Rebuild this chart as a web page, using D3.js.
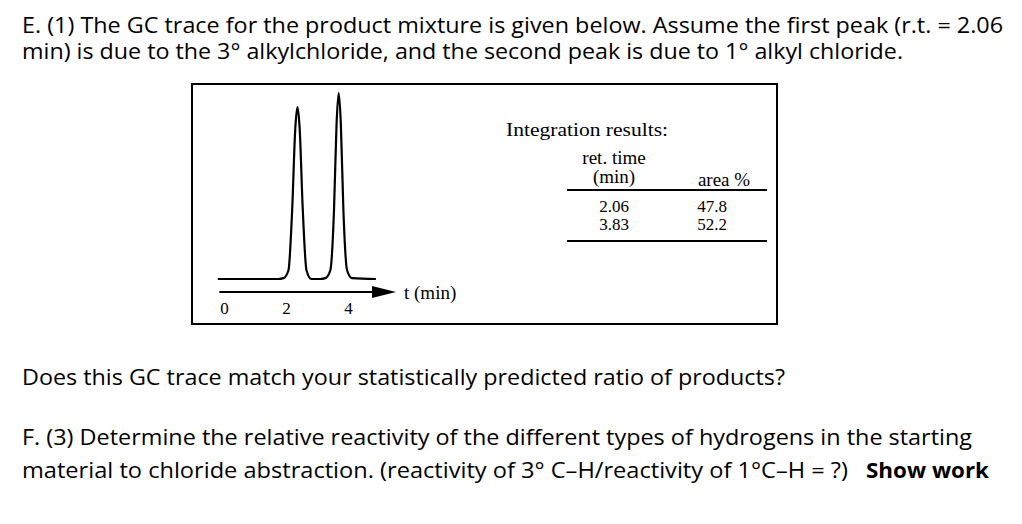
<!DOCTYPE html>
<html><head><meta charset="utf-8">
<script src="https://cdn.jsdelivr.net/npm/d3@7"></script>
<style>body{margin:0;background:#fff}</style></head>
<body><div id="chart"></div>
<script>
var traceTime = [-0.2, 1.75, 1.92, 2.08, 2.2, 2.3, 2.37, 2.44, 2.54, 2.66, 2.82, 3.1, 3.27, 3.43, 3.55, 3.63, 3.7, 3.77, 3.85, 3.97, 4.13, 4.9];
var traceSignal = [0, 0, 0.5, 5, 40, 86, 98, 86, 40, 5, 0, 0, 0.5, 5, 40, 88, 106, 88, 40, 5, 0.5, 0];
var tickValues = [0, 2, 4];
var retTimes = ["2.06", "3.83"];
var areaPct = ["47.8", "52.2"];

var svg = d3.select("#chart").append("svg").attr("width", 1022).attr("height", 524);
var sans = "'Open Sans', sans-serif", serif = "'Liberation Serif', serif";

function txt(x, y, s, opt) {
  opt = opt || {};
  var t = svg.append("text").attr("x", x).attr("y", y).text(s)
    .attr("font-family", opt.f || sans).attr("font-size", opt.size || 21)
    .attr("font-weight", opt.w || "normal").attr("text-anchor", opt.a || "start").attr("fill", "#000");
  if (opt.len) t.attr("textLength", opt.len).attr("lengthAdjust", "spacingAndGlyphs");
  return t;
}
txt(22, 33, "E. (1) The GC trace for the product mixture is given below. Assume the first peak (r.t. = 2.06", {len: 981});
txt(22, 59, "min) is due to the 3° alkylchloride, and the second peak is due to 1° alkyl chloride.", {len: 881});
txt(22, 385, "Does this GC trace match your statistically predicted ratio of products?", {len: 763});
txt(22, 445, "F. (3) Determine the relative reactivity of the different types of hydrogens in the starting", {len: 950});
txt(22, 478, "material to chloride abstraction. (reactivity of 3° C–H/reactivity of 1°C–H = ?)", {len: 826});
txt(866, 478, "Show work", {w: "bold", len: 123});

// frame
svg.append("rect").attr("x", 192).attr("y", 84).attr("width", 585).attr("height", 240)
  .attr("fill", "none").attr("stroke", "#000").attr("stroke-width", 2);

var x = d3.scaleLinear().domain([0, 4]).range([224, 348]);
var y = d3.scaleLinear().domain([0, 106]).range([279, 93]);

var axis = svg.append("g").attr("transform", "translate(0,292)")
  .call(d3.axisBottom(x).tickValues(tickValues).tickFormat(d3.format("d")).tickSize(0).tickPadding(10));
axis.select(".domain").remove();
axis.attr("font-family", serif).attr("font-size", 17);

svg.append("line").attr("x1", x(-0.15)).attr("x2", 375).attr("y1", 292).attr("y2", 292)
  .attr("stroke", "#000").attr("stroke-width", 2);
svg.append("path").attr("d", "M372,286 L396,292 L372,298 Z").attr("fill", "#000");
txt(404, 299, "t (min)", {f: serif, size: 19});

var pts = traceTime.map(function(t, i) { return [t, traceSignal[i]]; });
svg.append("path").datum(pts)
  .attr("d", d3.line().x(d => x(d[0])).y(d => y(d[1])).curve(d3.curveMonotoneX))
  .attr("fill", "none").attr("stroke", "#000").attr("stroke-width", 2.2);

// table
txt(506, 136, "Integration results:", {f: serif, size: 19, len: 162});
txt(614, 164, "ret. time", {f: serif, size: 19, a: "middle"});
txt(614, 183, "(min)", {f: serif, size: 19, a: "middle"});
txt(724, 186, "area %", {f: serif, size: 19, a: "middle"});
[190, 241].forEach(function(yy) {
  svg.append("line").attr("x1", 567).attr("x2", 767).attr("y1", yy).attr("y2", yy)
    .attr("stroke", "#000").attr("stroke-width", 2);
});
retTimes.forEach(function(r, i) {
  txt(614, 212 + i * 18, r, {f: serif, size: 17, a: "middle"});
  txt(712, 212 + i * 18, areaPct[i], {f: serif, size: 17, a: "middle"});
});
</script></body></html>
